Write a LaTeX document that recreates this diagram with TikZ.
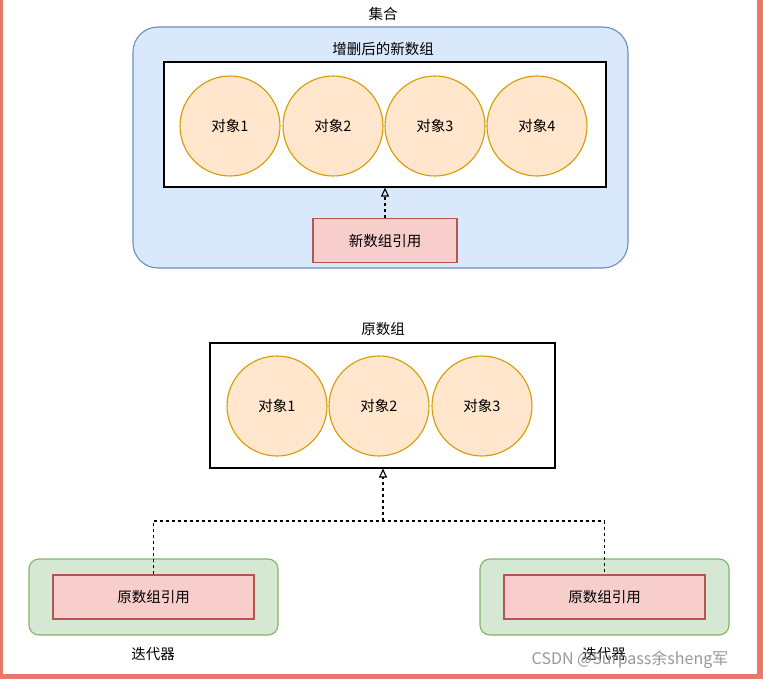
\documentclass[tikz,border=0pt]{standalone}
\usepackage{fontspec}
\setmainfont{Noto Sans CJK SC}
\usetikzlibrary{arrows.meta}
\definecolor{bluef}{HTML}{DAE8FC}\definecolor{blued}{HTML}{6C8EBF}
\definecolor{orf}{HTML}{FFE6CC}\definecolor{ord}{HTML}{D79B00}
\definecolor{redf}{HTML}{F8CECC}\definecolor{redd}{HTML}{B85450}
\definecolor{grf}{HTML}{D5E8D4}\definecolor{grd}{HTML}{82B366}
\definecolor{frame}{HTML}{E8786A}
\begin{document}
\begin{tikzpicture}[x=1pt,y=-1pt,font=\fontsize{14.5}{16}\selectfont,line width=1.1pt,
 obj/.style={circle,draw=ord,fill=orf,minimum size=100pt,inner sep=0pt},
 ref/.style={draw=redd,fill=redf,minimum width=#1,minimum height=44pt,inner sep=0pt},
 grp/.style={draw=grd,fill=grf,rounded corners=10pt,minimum width=249pt,minimum height=76pt,inner sep=0pt},
 arr/.style={dash pattern=on 3pt off 3pt,-{Triangle[open,length=9pt,width=8pt]}},
 dline/.style={dash pattern=on 3pt off 3pt}]
\useasboundingbox (0,0) rectangle (763,679);
\fill[white] (0,0) rectangle (763,679);
\fill[frame] (0,0) rectangle (3,679);
\fill[frame] (757,0) rectangle (763,679);
\fill[frame] (0,674) rectangle (763,679);
\node (t1) at (383,14) {集合};
\node[draw=blued,fill=bluef,rounded corners=25pt,minimum width=495pt,minimum height=241pt,inner sep=0pt] (set) at (380.5,147.5) {};
\node (t2) at (383,49) {增删后的新数组};
\node[draw,fill=white,minimum width=442pt,minimum height=125pt,inner sep=0pt] (na) at (385,124.5) {};
\node[obj] (a1) at (230,126) {对象1};
\node[obj] (a2) at (333,126) {对象2};
\node[obj] (a3) at (435,126) {对象3};
\node[obj] (a4) at (537,126) {对象4};
\node[ref=144pt] (nr) at (385,240.5) {新数组引用};
\draw[arr] (nr.north) -- (na.south);
\node (t3) at (383,329) {原数组};
\node[draw,fill=white,minimum width=345pt,minimum height=125pt,inner sep=0pt] (oa) at (382.5,405.5) {};
\node[obj] (b1) at (277,406) {对象1};
\node[obj] (b2) at (379,406) {对象2};
\node[obj] (b3) at (482,406) {对象3};
\node[grp] (g1) at (153.5,597) {};
\node[grp] (g2) at (604.5,597) {};
\node[ref=201pt] (r1) at (153.5,597) {原数组引用};
\node[ref=201pt] (r2) at (604.5,597) {原数组引用};
\coordinate (j) at (383,521);
\draw[dline] (r1.north) |- (j) -| (r2.north);
\draw[arr] (j) -- (oa.south -| j);
\node (it1) at (153,654) {迭代器};
\node (it2) at (604,654) {迭代器};
\node[text=gray!80,font=\fontsize{16}{17}\selectfont] (wm) at (630,660) {CSDN @Surpass余sheng军};
\end{tikzpicture}
\end{document}
